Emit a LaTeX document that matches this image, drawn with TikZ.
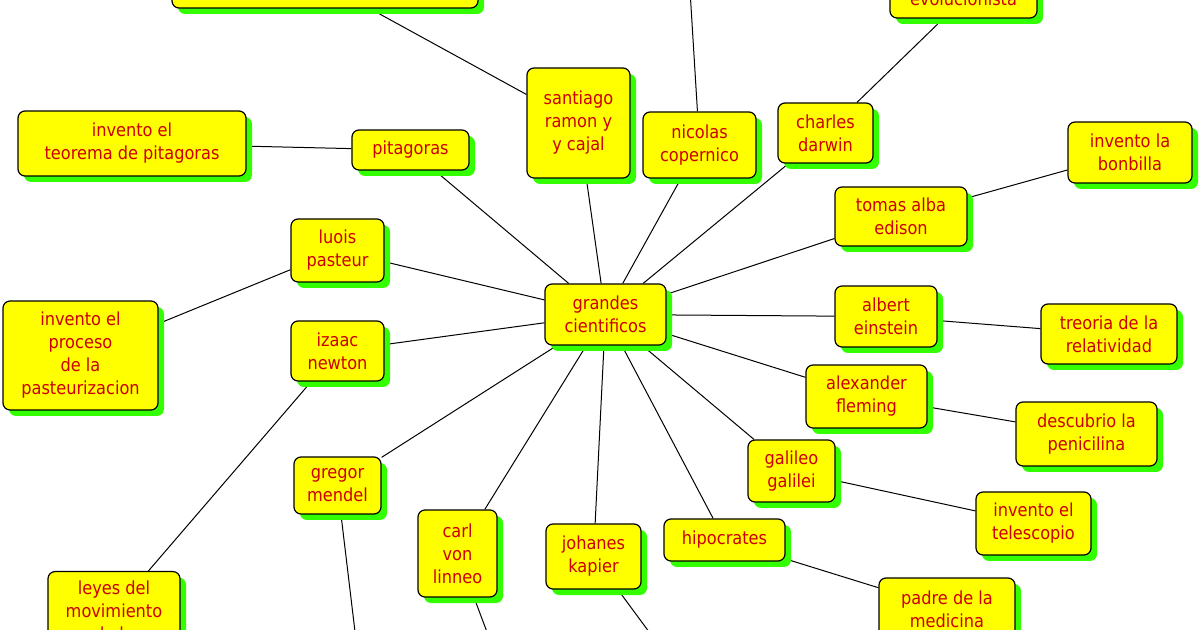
\documentclass[tikz,border=0pt]{standalone}
\usepackage{fontspec}
\setmainfont{DejaVu Sans Condensed}
\usetikzlibrary{shadows,backgrounds}
\definecolor{txt}{HTML}{CC0000}
\definecolor{shd}{HTML}{33FF00}
\definecolor{box}{HTML}{FFFF00}
\tikzset{
  cbox/.style={draw=black, line width=0.6pt, fill=box, rounded corners=3.5pt, text=txt,
    align=center, font=\fontsize{9}{11.5}\selectfont, inner sep=0pt,
    drop shadow={shadow xshift=3pt, shadow yshift=-3pt, fill=shd, opacity=1}},
  edge/.style={draw=black, line width=0.5pt}
}
\newcommand{\bx}[6]{\node[cbox, minimum width=#4*0.5pt, minimum height=#5*0.5pt] (#1) at (#2,#3) {#6};}
\begin{document}
\begin{tikzpicture}[x=0.5pt,y=-0.5pt]
\useasboundingbox (0,0) rectangle (1200,630);
\clip (0,0) rectangle (1200,630);
\bx{topleft}{325}{-16}{306}{48}{}
\bx{evol}{963.5}{-1}{147}{38}{evolucionista}
\bx{santiago}{578.5}{123}{103}{110}{santiago\\ramon y\\y cajal}
\bx{nicolas}{699.5}{145}{113}{66}{nicolas\\copernico}
\bx{charles}{825.5}{133}{95}{60}{charles\\darwin}
\bx{bonbilla}{1130}{152.5}{124}{61}{invento la\\bonbilla}
\bx{tomas}{901}{216.5}{132}{59}{tomas alba\\edison}
\bx{pitagoras}{410.5}{150}{117}{40}{pitagoras}
\bx{teorema}{132}{143.5}{228}{65}{invento el\\teorema de pitagoras}
\bx{luois}{337.5}{250.5}{93}{63}{luois\\pasteur}
\bx{pasteur}{80.5}{355.5}{155}{109}{invento el\\proceso\\de la\\pasteurizacion}
\bx{center}{605.5}{314.5}{121}{61}{grandes\\cientificos}
\bx{izaac}{337.5}{351}{93}{60}{izaac\\newton}
\bx{albert}{886}{316.5}{102}{61}{albert\\einstein}
\bx{relat}{1109}{334}{136}{60}{treoria de la\\relatividad}
\bx{alex}{866.5}{396.5}{121}{63}{alexander\\fleming}
\bx{penic}{1086.5}{434}{141}{64}{descubrio la\\penicilina}
\bx{galileo}{791.5}{471}{87}{62}{galileo\\galilei}
\bx{telesc}{1033.5}{523.5}{115}{63}{invento el\\telescopio}
\bx{gregor}{337.5}{485.5}{87}{57}{gregor\\mendel}
\bx{carl}{457.5}{553.5}{79}{87}{carl\\von\\linneo}
\bx{johanes}{593.5}{556.5}{95}{65}{johanes\\kapier}
\bx{hipo}{724.5}{540}{121}{42}{hipocrates}
\bx{padre}{947}{609}{136}{62}{padre de la\\medicina}
\node[cbox, minimum width=66pt, minimum height=39.5pt, anchor=north] (leyes) at (114,571) {leyes del\\movimiento\\de la};
\coordinate (nicotop) at (690,-10);
\coordinate (gregbot) at (356,640);
\coordinate (carlbot) at (490,640);
\coordinate (johbot) at (655,640);
\begin{scope}[on background layer]
\fill[white] (0,0) rectangle (1200,630);
\foreach \n in {santiago,nicolas,charles,tomas,pitagoras,luois,izaac,albert,alex,galileo,hipo,johanes,carl,gregor}
  \draw[edge] (center) -- (\n);
\draw[edge] (santiago) -- (topleft);
\draw[edge] (nicolas) -- (nicotop);
\draw[edge] (charles) -- (evol);
\draw[edge] (tomas) -- (bonbilla);
\draw[edge] (pitagoras) -- (teorema);
\draw[edge] (luois) -- (pasteur);
\draw[edge] (izaac) -- (leyes);
\draw[edge] (albert) -- (relat);
\draw[edge] (alex) -- (penic);
\draw[edge] (galileo) -- (telesc);
\draw[edge] (hipo) -- (padre);
\draw[edge] (gregor) -- (gregbot);
\draw[edge] (carl) -- (carlbot);
\draw[edge] (johanes) -- (johbot);
\end{scope}
\end{tikzpicture}
\end{document}
